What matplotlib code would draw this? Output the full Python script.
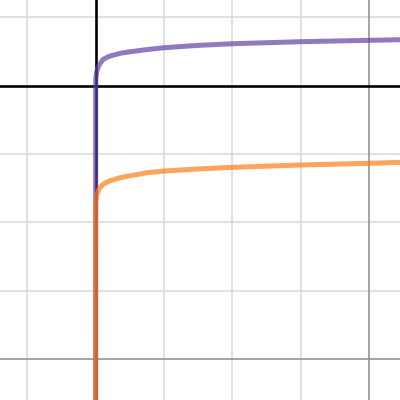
import numpy as np
import matplotlib
matplotlib.use('Agg')
import matplotlib.pyplot as plt

# points (grid unit = 1)
purple_x = [0.0, 0.0005, 0.003, 0.016, 0.05, 0.108, 0.196, 0.364, 0.503, 0.756, 1.0, 1.5, 2.0, 3.0, 4.0, 4.5]
purple_y = [-5.0, -0.05, 0.10, 0.205, 0.303, 0.383, 0.430, 0.475, 0.497, 0.529, 0.556, 0.590, 0.614, 0.644, 0.664, 0.674]

orange_x = [0.0, 0.0005, 0.003, 0.016, 0.054, 0.113, 0.211, 0.357, 0.503, 0.752, 1.0, 1.5, 2.0, 3.0, 4.0, 4.5]
orange_y = [-5.0, -1.86, -1.70, -1.599, -1.501, -1.438, -1.390, -1.346, -1.317, -1.273, -1.248, -1.218, -1.194, -1.160, -1.135, -1.120]

minor_x = [-1, 1, 2, 3]
minor_y = [1, -1, -2, -3]
major_x = [4]
major_y = [-4]

fig = plt.figure(figsize=(4, 4), dpi=100)
ax = fig.add_axes([0, 0, 1, 1])
ax.set_xlim(-1.399, 4.453)
ax.set_ylim(-4.598, 1.254)
ax.axis('off')

for v in minor_x:
    ax.axvline(v, color='#d9d9d9', lw=1.1, zorder=1)
for v in minor_y:
    ax.axhline(v, color='#d9d9d9', lw=1.1, zorder=1)
for v in major_x:
    ax.axvline(v, color='#8c8c8c', lw=1.1, zorder=1)
for v in major_y:
    ax.axhline(v, color='#8c8c8c', lw=1.1, zorder=1)

# axes
ax.axvline(0, color='black', lw=1.9, zorder=2)
ax.axhline(0, color='black', lw=1.9, zorder=2)

ax.plot(purple_x, purple_y, color='#6042a6', alpha=0.7, lw=3.6,
        solid_joinstyle='round', solid_capstyle='round', zorder=3)
ax.plot(orange_x, orange_y, color='#fa7e19', alpha=0.7, lw=3.6,
        solid_joinstyle='round', solid_capstyle='round', zorder=4)

fig.savefig('out.png', dpi=100)
